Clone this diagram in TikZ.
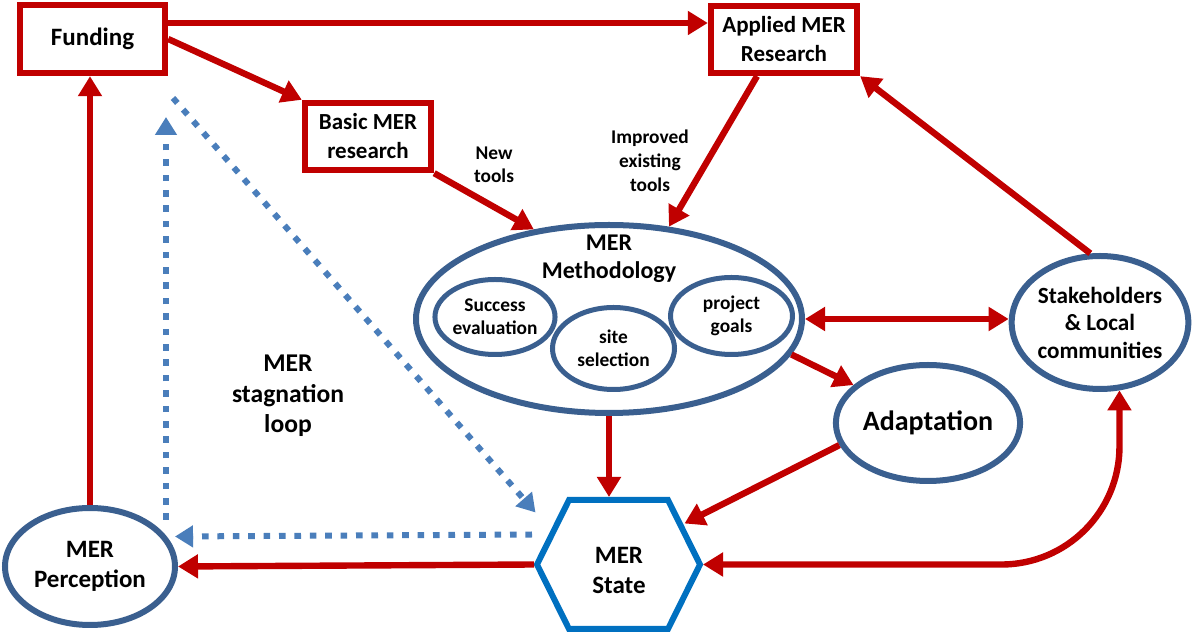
\documentclass[tikz,border=0pt]{standalone}
\usepackage{fontspec}
\setmainfont{Carlito}
\usetikzlibrary{shapes.geometric,arrows.meta,calc}
\definecolor{mred}{HTML}{C00000}
\definecolor{mblue}{HTML}{3A5F8F}
\definecolor{hexblue}{HTML}{0070C0}
\definecolor{dotblue}{HTML}{4A7EBB}
\begin{document}
\begin{tikzpicture}[x=0.5pt,y=-0.5pt,
  redbox/.style={draw=mred, line width=3.2pt, fill=white, inner sep=0pt, align=center,
    font=\bfseries\fontsize{11.5}{14.5}\selectfont},
  ell/.style={ellipse, draw=mblue, line width=3pt, inner sep=0pt, align=center},
  inell/.style={ellipse, draw=mblue, line width=2.5pt, inner sep=0pt, align=center,
    font=\bfseries\fontsize{9.7}{11.5}\selectfont},
  lbl/.style={align=center, inner sep=0pt},
  hexline/.style={draw=hexblue, line width=3pt, line join=miter},
  arr/.style={draw=mred, line width=3.2pt, -{Triangle[length=10pt,width=11.5pt]}},
  darr/.style={draw=mred, line width=3.2pt, {Triangle[length=10pt,width=11.5pt]}-{Triangle[length=10pt,width=11.5pt]}},
  dotarr/.style={draw=dotblue, line width=3pt, dash pattern=on 3.3pt off 4.4pt, -{Triangle[length=9pt,width=10.5pt]}}
]
\useasboundingbox (0,0) rectangle (1200,635);
% boxes
\node[redbox, minimum width=72.5pt, minimum height=34pt, font=\bfseries\fontsize{12.5}{15}\selectfont] (fund) at (92.5,39) {Funding};
\node[redbox, minimum width=63pt, minimum height=33.5pt] (basic) at (368,136.5) {Basic MER\\research};
\node[redbox, minimum width=73pt, minimum height=33.5pt] (applied) at (784,39.5) {Applied MER\\Research};
% methodology
\node[ell, minimum width=193pt, minimum height=94pt] (meth) at (609,319) {};
\node[lbl, font=\bfseries\fontsize{12}{14}\selectfont] (methl) at (609,259) {MER\\Methodology};
\node[inell, minimum width=59.5pt, minimum height=37.5pt] (succ) at (495,317) {Success\\evaluation};
\node[inell, minimum width=61pt, minimum height=41pt] (site) at (613.5,348.5) {site\\selection};
\node[inell, minimum width=61pt, minimum height=38.5pt] (proj) at (731.5,316) {project\\goals};
% other ellipses
\node[ell, minimum width=88pt, minimum height=66.5pt, font=\bfseries\fontsize{11.6}{13.75}\selectfont] (stake) at (1100,322.5) {Stakeholders\\\& Local\\communities};
\node[ell, minimum width=84pt, minimum height=58pt, font=\bfseries\fontsize{14}{16}\selectfont] (adapt) at (928,423) {Adaptation};
\node[ell, minimum width=85pt, minimum height=58.5pt, font=\bfseries\fontsize{12.5}{15}\selectfont] (perc) at (90,566.5) {MER\\Perception};
% state hexagon
\node[lbl, minimum width=81.5pt, minimum height=64.5pt, outer sep=1.5pt] (state) at (618.5,564.5) {};
\draw[hexline] ($(state.center)+(-81.5,0)$) -- ($(state.center)+(-49.5,-64.5)$) -- ($(state.center)+(49.5,-64.5)$) -- ($(state.center)+(81.5,0)$) -- ($(state.center)+(49.5,64.5)$) -- ($(state.center)+(-49.5,64.5)$) -- cycle;
\node[lbl, font=\bfseries\fontsize{12.5}{15}\selectfont] (statel) at (619,570) {MER\\State};
% labels
\node[lbl, font=\bfseries\fontsize{9.7}{11.5}\selectfont] (newt) at (494,165) {New\\tools};
\node[lbl, font=\bfseries\fontsize{9.7}{12}\selectfont] (impr) at (650,161) {Improved\\existing\\tools};
\node[lbl, font=\bfseries\fontsize{12.8}{15.3}\selectfont] (stag) at (288,396) {MER\\stagnation\\loop};
% red arrows
\draw[arr] ([yshift=8pt]fund.east) -- ([yshift=8pt]fund.east -| applied.west);
\draw[arr] (fund.east) -- (basic.north west);
\draw[arr] (basic.south east) -- (meth.130);
\draw[arr] ([xshift=-13.5pt]applied.south) -- (meth.57);
\draw[arr] (stake.98) -- (applied.south east);
\draw[darr] (meth.east) -- (meth.east -| stake.west);
\draw[arr] (meth.-11) -- (adapt.153);
\draw[arr] (meth.south) -- (meth.south |- state.north);
\draw[arr] (adapt.194) -- ($(state.center)+(66,-41)$);
\draw[darr, rounded corners=59pt] (state.east) -| (stake.-74);
\draw[arr] (state.west) -- (perc.east);
\draw[arr] (perc.north) -- (perc.north |- fund.south);
% dotted blue arrows
\coordinate (v1) at (166,520);
\coordinate (v2) at (166,117);
\coordinate (d1) at (173,98);
\draw[dotarr] ($(state.west)+(-2,-30)$) -- ($(perc.east)+(-3,-30)$);
\draw[dotarr] (v1) -- (v2);
\draw[dotarr] (d1) -- ($(state.center)+(-83,-52)$);
\end{tikzpicture}
\end{document}
